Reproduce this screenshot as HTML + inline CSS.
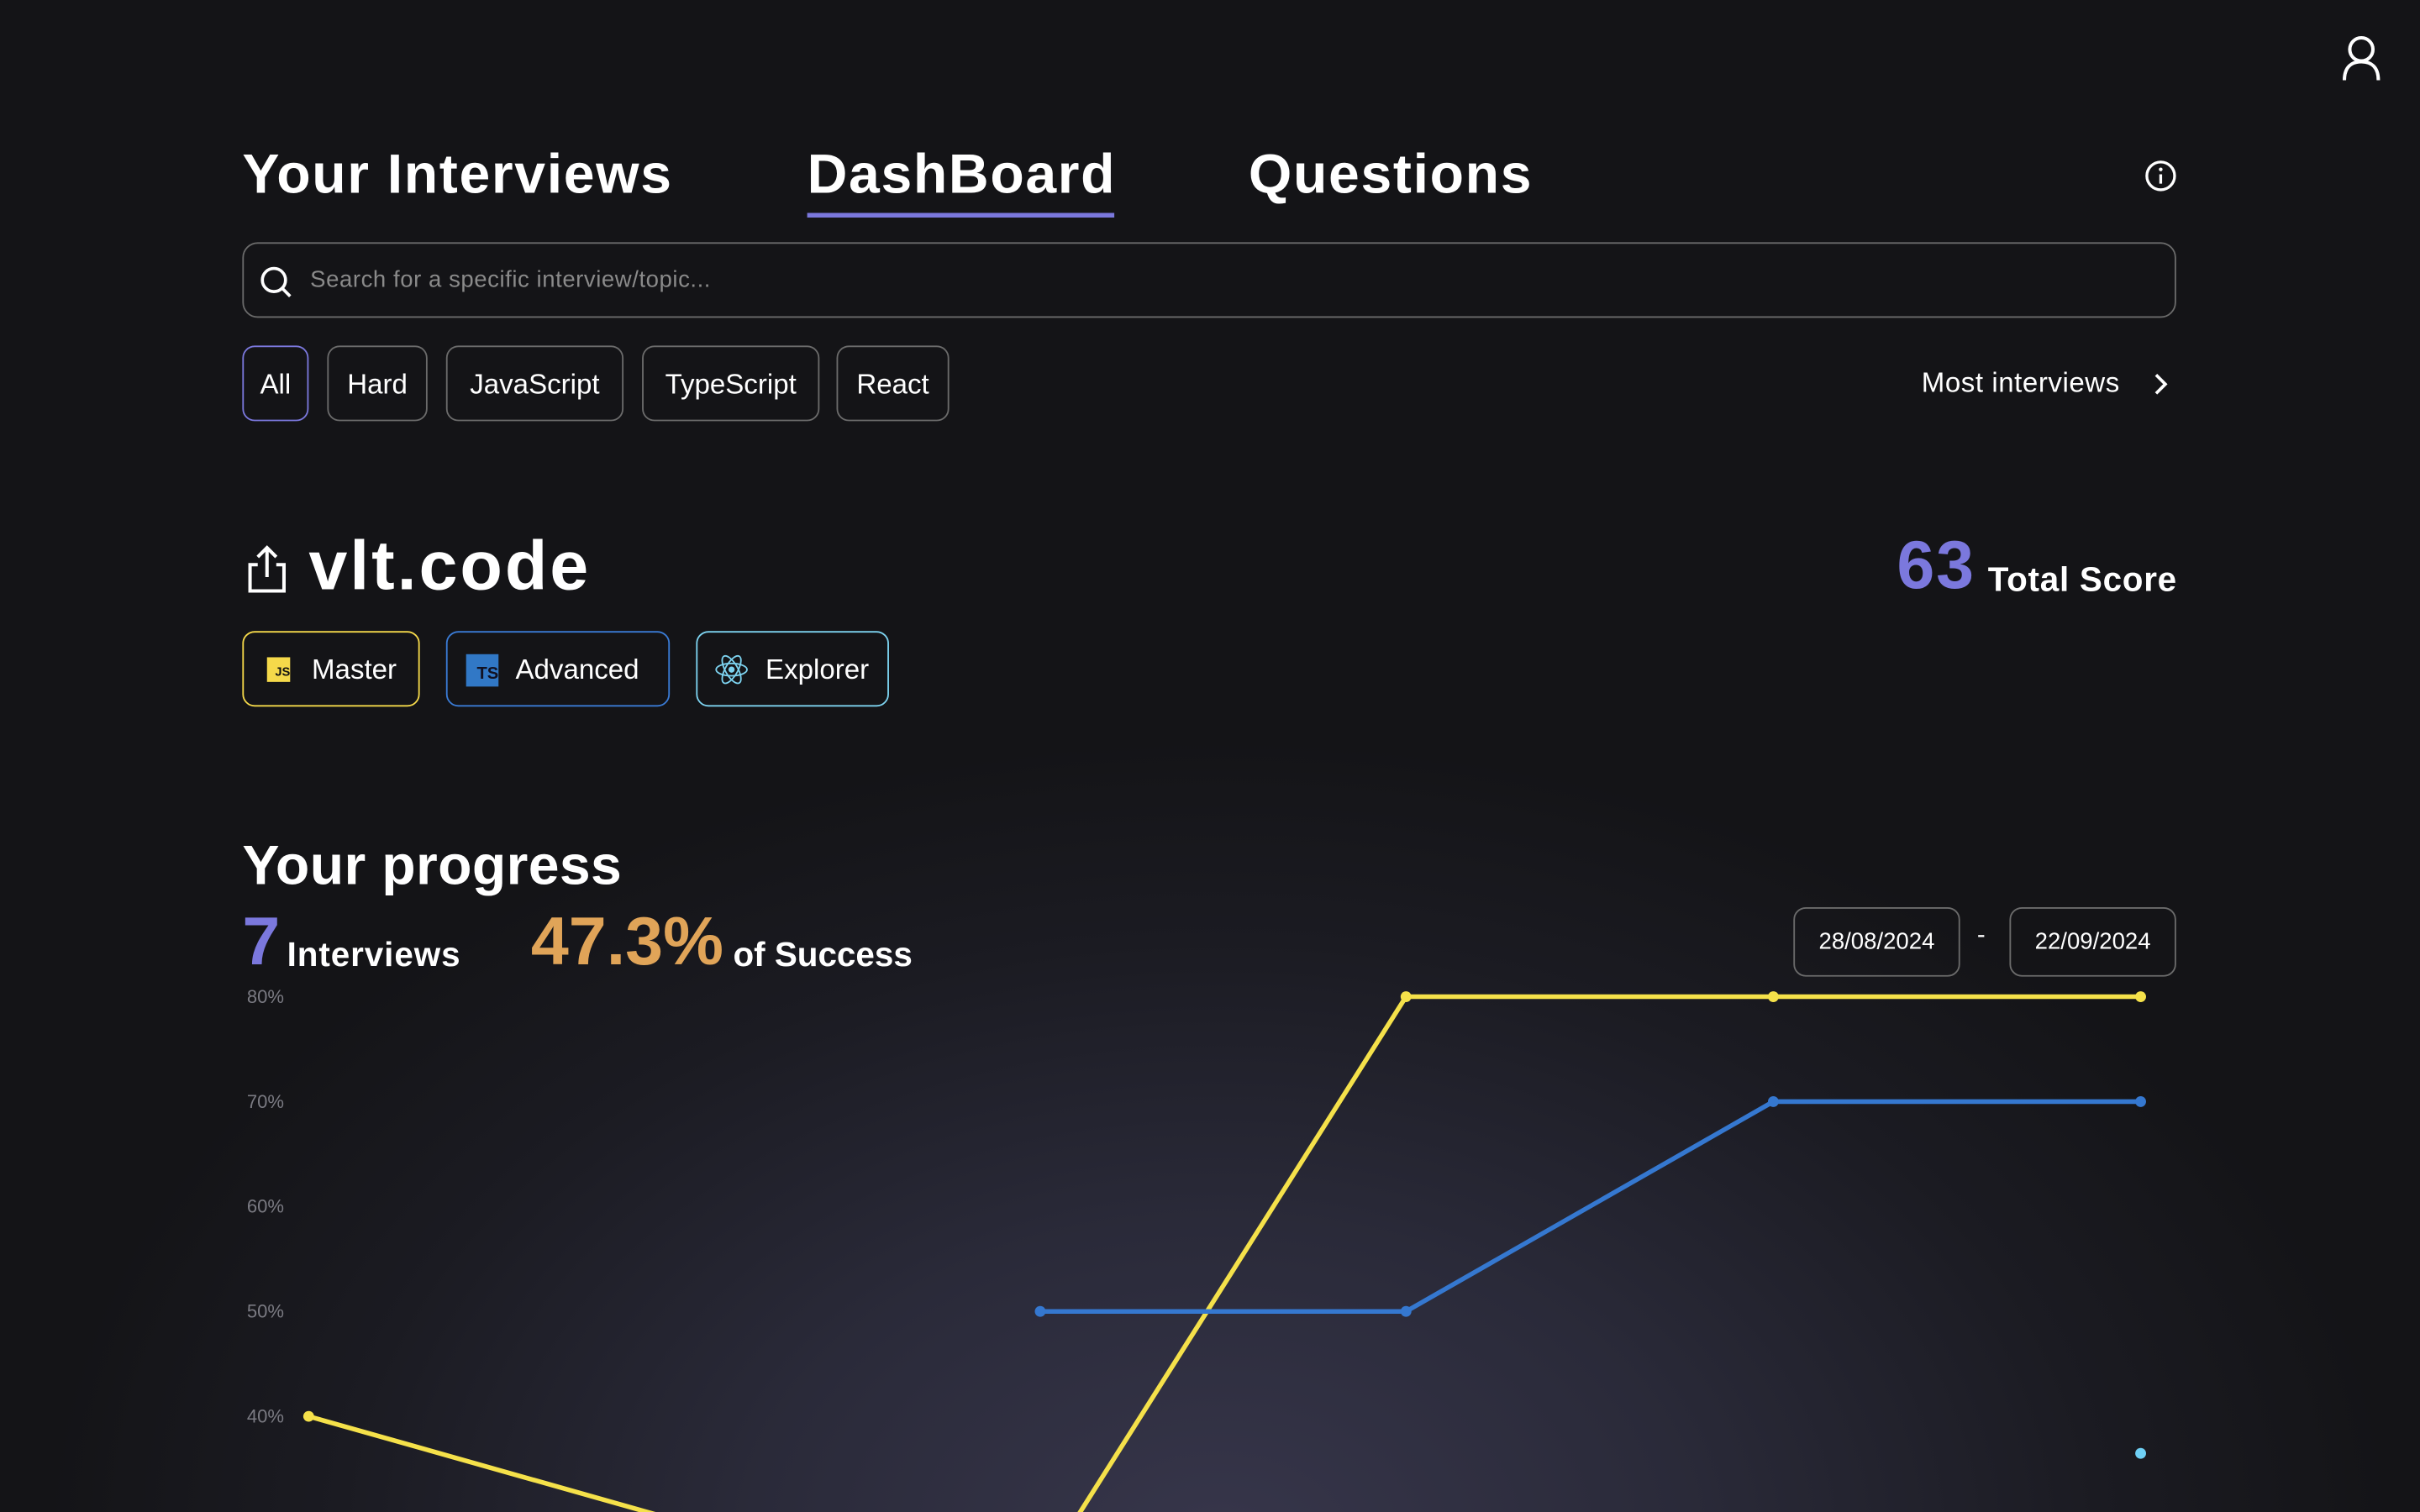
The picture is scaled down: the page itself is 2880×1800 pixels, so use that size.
<!DOCTYPE html>
<html><head><meta charset="utf-8"><style>
html,body{margin:0;padding:0;background:#141417;width:2880px;height:1800px;overflow:hidden}
#s{position:absolute;left:0;top:0;width:1568px;height:980px;transform:scale(1.83674);transform-origin:0 0;
background:radial-gradient(ellipse 760px 520px at 790px 1000px,#37364b 0%,#2a2a39 40%,#1b1b22 75%,#141417 100%);
font-family:"Liberation Sans",sans-serif;color:#fff;overflow:hidden}
.a{position:absolute;white-space:nowrap}
.tab{font-size:36px;font-weight:bold;top:92px;letter-spacing:0.9px}
.chip{position:absolute;top:224px;height:47px;border:1.5px solid #6b6b6b;border-radius:8px;font-size:18px;line-height:49px;text-align:center;box-sizing:content-box}
.badge{position:absolute;top:409px;height:47px;border:1.5px solid;border-radius:8px;font-size:18px;line-height:49px}
.date{position:absolute;top:588px;width:106px;height:43px;border:1.5px solid #6b6b6b;border-radius:8px;font-size:15px;line-height:44px;text-align:center}
.yl{position:absolute;left:160px;font-size:12px;color:#7a7a82}
</style></head><body><div id="s">
<svg class="a" style="left:1516px;top:22px" width="28" height="32" viewBox="0 0 28 32"><circle cx="14" cy="10" r="7.5" fill="none" stroke="#fff" stroke-width="2.2"/><path d="M3 30 C3 21 8 18 14 18 C20 18 25 21 25 30" fill="none" stroke="#fff" stroke-width="2.2"/></svg>
<div class="a tab" style="left:157px">Your Interviews</div>
<div class="a tab" style="left:523px">DashBoard</div>
<div class="a" style="left:523px;top:138px;width:199px;height:3px;background:#7b78dd"></div>
<div class="a tab" style="left:809px">Questions</div>
<svg class="a" style="left:1389px;top:103px" width="22" height="22"><circle cx="11" cy="11" r="9" fill="none" stroke="#fff" stroke-width="1.8"/><line x1="11" y1="10" x2="11" y2="16" stroke="#fff" stroke-width="1.8"/><circle cx="11" cy="6.8" r="1.2" fill="#fff"/></svg>
<div class="a" style="left:157px;top:157px;width:1251px;height:47px;border:1.5px solid #6b6b6b;border-radius:10px"></div>
<svg class="a" style="left:168px;top:172px" width="22" height="22"><circle cx="9.5" cy="9.5" r="7.5" fill="none" stroke="#fff" stroke-width="2"/><line x1="15" y1="15" x2="20" y2="20" stroke="#fff" stroke-width="2"/></svg>
<div class="a" style="left:201px;top:173px;font-size:15px;color:#8a8a8a;letter-spacing:0.3px">Search for a specific interview/topic...</div>
<div class="chip" style="left:157px;width:41px;border-color:#7b78dd">All</div>
<div class="chip" style="left:212px;width:63px">Hard</div>
<div class="chip" style="left:289px;width:113px">JavaScript</div>
<div class="chip" style="left:416px;width:113px">TypeScript</div>
<div class="chip" style="left:542px;width:71px">React</div>
<div class="a" style="left:1245px;top:238px;font-size:18px;letter-spacing:0.3px">Most interviews</div>
<svg class="a" style="left:1393px;top:240px" width="14" height="18"><path d="M4 3 L10 9 L4 15" fill="none" stroke="#fff" stroke-width="2"/></svg>
<svg class="a" style="left:158px;top:352px" width="30" height="34"><path d="M9 14 H4 V31 H26 V14 H21" fill="none" stroke="#fff" stroke-width="2.2"/><path d="M15 22 V3 M9 9 L15 3 L21 9" fill="none" stroke="#fff" stroke-width="2.2"/></svg>
<div class="a" style="left:200px;top:341px;font-size:45px;font-weight:bold;letter-spacing:1.6px">vlt.code</div>
<div class="a" style="left:1229px;top:342px;font-size:44px;font-weight:bold;color:#7b78dd;letter-spacing:1px">63</div>
<div class="a" style="left:1288px;top:363px;font-size:22px;font-weight:bold;letter-spacing:0.4px">Total Score</div>
<div class="badge" style="left:157px;width:113px;border-color:#f5d94a"><span class="a" style="left:15px;top:16px;width:15px;height:16px;background:#f5d94a;color:#111;font-size:8px;line-height:20px;font-weight:bold;text-align:right">JS</span><span class="a" style="left:44px">Master</span></div>
<div class="badge" style="left:289px;width:143px;border-color:#3a7bd5"><span class="a" style="left:12px;top:14px;width:21px;height:21px;background:#3178c6;color:#112;font-size:11px;line-height:26px;font-weight:bold;text-align:right">TS</span><span class="a" style="left:44px">Advanced</span></div>
<div class="badge" style="left:451px;width:123px;border-color:#7dd3f0"><svg class="a" style="left:11px;top:13px" width="22" height="22" viewBox="-11 -11 22 22"><g fill="none" stroke="#7dd3f0" stroke-width="1"><ellipse rx="10" ry="4"/><ellipse rx="10" ry="4" transform="rotate(60)"/><ellipse rx="10" ry="4" transform="rotate(120)"/></g><circle r="2" fill="#7dd3f0"/></svg><span class="a" style="left:44px">Explorer</span></div>
<div class="a" style="left:157px;top:540px;font-size:36px;font-weight:bold;letter-spacing:0.2px">Your progress</div>
<div class="a" style="left:157px;top:586px;font-size:44px;font-weight:bold;color:#7b78dd">7</div>
<div class="a" style="left:186px;top:606px;font-size:22px;font-weight:bold;letter-spacing:0.5px">Interviews</div>
<div class="a" style="left:344px;top:586px;font-size:44px;font-weight:bold;color:#e0a458">47.3%</div>
<div class="a" style="left:475px;top:606px;font-size:22px;font-weight:bold">of Success</div>
<div class="date" style="left:1162px">28/08/2024</div>
<div class="a" style="left:1281px;top:598px;font-size:16px">-</div>
<div class="date" style="left:1302px">22/09/2024</div>
<div class="yl" style="top:639px">80%</div>
<div class="yl" style="top:707px">70%</div>
<div class="yl" style="top:775px">60%</div>
<div class="yl" style="top:843px">50%</div>
<div class="yl" style="top:911px">40%</div>
<svg class="a" style="left:0;top:0" width="1568" height="980">
<polyline points="200,918 437,985 674,1021 911,646 1149,646 1387,646" fill="none" stroke="#f5e14a" stroke-width="3"/>
<polyline points="674,850 911,850 1149,714 1387,714" fill="none" stroke="#3578d0" stroke-width="3"/>
<g fill="#f5e14a"><circle cx="200" cy="918" r="3.5"/><circle cx="911" cy="646" r="3.5"/><circle cx="1149" cy="646" r="3.5"/><circle cx="1387" cy="646" r="3.5"/></g>
<g fill="#3578d0"><circle cx="674" cy="850" r="3.5"/><circle cx="911" cy="850" r="3.5"/><circle cx="1149" cy="714" r="3.5"/><circle cx="1387" cy="714" r="3.5"/></g>
<circle cx="1387" cy="942" r="3.5" fill="#6fd0f5"/>
</svg>
</div></body></html>
